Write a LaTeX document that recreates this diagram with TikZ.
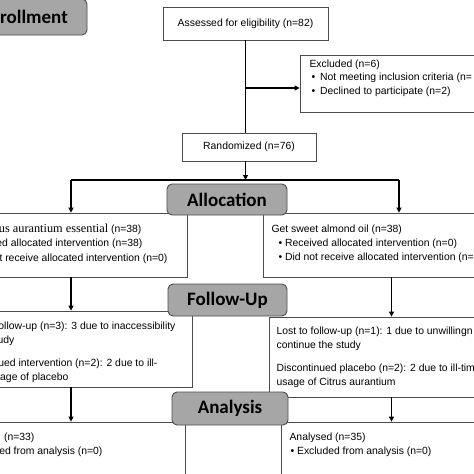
\documentclass[tikz,border=0pt]{standalone}
\usepackage{fontspec}
\setmainfont{Liberation Sans}
\newfontfamily\headfont{Carlito}
\newfontfamily\serifpart{Liberation Serif}
\usetikzlibrary{arrows.meta}

\begin{document}
\begin{tikzpicture}[x=1pt, y=-1pt, line width=1.1pt,
    box/.style={draw=black!70, line width=0.8pt, fill=white, inner sep=0pt, font=\fontsize{10.4}{12}\selectfont},
    stage/.style={draw=black!70, line width=0.9pt, fill=black!35, rounded corners=5pt, inner sep=0pt, font=\headfont\bfseries\fontsize{19}{20}\selectfont},
    txt/.style={inner sep=0pt, align=left, anchor=north west, font=\fontsize{10.4}{14.3}\selectfont},
    cut/.style={inner sep=0pt, anchor=base east, font=\fontsize{10.4}{12}\selectfont},
    arr/.style={-{Triangle[length=5pt, width=5pt]}}]

    \useasboundingbox (0,0) rectangle (474,474);
    \clip (0,0) rectangle (474,474);

    % Boxes
    \node[box, minimum width=165pt, minimum height=33pt] (assess) at (245.5,23.5) {Assessed for eligibility (n=82)};
    \node[box, minimum width=220pt, minimum height=57pt] (excl) at (410,83.5) {};
    \node[txt, font=\fontsize{10.4}{13.5}\selectfont] (excltxt) at (309,59.2) {Excluded (n=6)\\
        \hspace{2pt}•\hspace{5pt}Not meeting inclusion criteria (n=\\
        \hspace{2pt}•\hspace{5pt}Declined to participate (n=2)};
    \node[box, minimum width=134pt, minimum height=28pt] (rand) at (249,147) {Randomized (n=76)};

    \node[box, minimum width=237pt, minimum height=64pt] (allocL) at (68.5,245) {};
    \node[cut] (allocL1) at (142,232) {{\serifpart\fontsize{12.3}{12}\selectfont us aurantium essential} (n=38)};
    \node[cut] (allocL2) at (143,246.5) {ed allocated intervention (n=38)};
    \node[cut] (allocL3) at (168,261.5) {t receive allocated intervention (n=0)};

    \node[box, minimum width=257pt, minimum height=64pt] (allocR) at (391.5,245) {};
    \node[txt] (allocRtxt) at (271,224.2) {Get sweet almond oil (n=38)\\
        \hspace{7pt}• Received allocated intervention (n=0)\\
        \hspace{7pt}• Did not receive allocated intervention (n=3};

    \node[box, minimum width=242pt, minimum height=76pt] (folL) at (71,349) {};
    \node[cut] (folL1) at (176,329) {ollow-up (n=3): 3 due to inaccessibility};
    \node[cut] (folL2) at (15,343) {udy};
    \node[cut] (folL3) at (158,366.5) {tinued intervention (n=2): 2 due to ill-};
    \node[cut] (folL4) at (69,380) {age of placebo};

    \node[box, minimum width=251pt, minimum height=80pt] (folR) at (394.5,357) {};
    \node[txt, font=\fontsize{10.4}{14}\selectfont] (folRtxt) at (276,326.2) {Lost to follow-up (n=1): 1 due to unwillingn\\
        continue the study\\[9pt]
        Discontinued placebo (n=2): 2 due to ill-tim\\
        usage of Citrus aurantium};

    \node[box, minimum width=235pt, minimum height=98pt] (anaL) at (67.5,471) {};
    \node[cut] (anaL1) at (35,440) {(n=33)};
    \node[cut] (anaL2) at (103,454) {ed from analysis (n=0)};

    \node[box, minimum width=239pt, minimum height=98pt] (anaR) at (400.5,471) {};
    \node[txt] (anaRtxt) at (289,432.2) {Analysed (n=35)\\
        \hspace{1pt}• Excluded from analysis (n=0)};

    % Connectors
    \coordinate (exj) at (245.5,88);
    \coordinate (splitL) at (71,180);
    \coordinate (splitR) at (399,180);
    \draw (assess.south) -- (assess.south |- rand.north);
    \draw[arr] (exj) -- (exj -| excl.west);
    \draw[arr] (assess.south |- rand.south) -- (assess.south |- splitL);
    \draw (splitL) -- (splitR);
    \draw[arr] (splitL) -- (splitL |- allocL.north);
    \draw[arr] (splitR) -- (splitR |- allocR.north);
    \draw[arr] (splitL |- allocL.south) -- (splitL |- folL.north);
    \draw[arr] (allocR.south) -- (allocR.south |- folR.north);
    \draw[arr] (folL.south) -- (folL.south |- anaL.north);
    \draw[arr] (allocR.south |- folR.south) -- (allocR.south |- anaR.north);

    % Stages
    \node[stage, minimum width=106pt, minimum height=36pt] (enrol) at (34,17) {rollment};
    \node[stage, minimum width=120pt, minimum height=31pt] (alloc) at (227,199.5) {Allocation};
    \node[stage, minimum width=119pt, minimum height=32pt] (follow) at (227.5,300) {Follow-Up};
    \node[stage, minimum width=116pt, minimum height=33pt] (analysis) at (230,408.5) {Analysis};
\end{tikzpicture}
\end{document}
